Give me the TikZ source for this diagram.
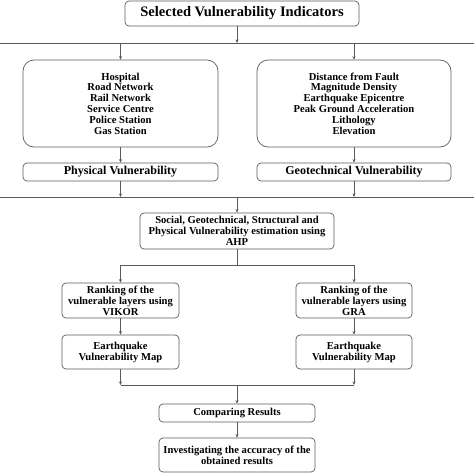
\documentclass[tikz,border=0pt]{standalone}
\usepackage{fontspec}
\setmainfont{Liberation Serif}
\usetikzlibrary{arrows.meta}
\definecolor{edge}{HTML}{5A5A5A}
\tikzset{
  box/.style={draw=edge, line width=0.7pt, rounded corners=4pt, align=center, inner sep=0pt,
    font=\bfseries\fontsize{10.6}{11}\selectfont},
  bigbox/.style={box, rounded corners=11pt, font=\bfseries\fontsize{10.6}{10.8}\selectfont},
  conn/.style={draw=edge, line width=0.6pt},
  arr/.style={conn, -{Stealth[length=3.5pt,width=3pt]}},
}
\begin{document}
\begin{tikzpicture}[x=1pt,y=-1pt]
\useasboundingbox (0,0) rectangle (474,474);
% nodes
\node[box, minimum width=234pt, minimum height=25pt, font=\bfseries\fontsize{14.5}{16}\selectfont] (top) at (242,13.5) {Selected Vulnerability Indicators};
\node[bigbox, minimum width=195pt, minimum height=87pt] (L1) at (120.5,103.5) {Hospital\\Road Network\\Rail Network\\Service Centre\\Police Station\\Gas Station};
\node[bigbox, minimum width=194pt, minimum height=87pt] (R1) at (354,103.5) {Distance from Fault\\Magnitude Density\\Earthquake Epicentre\\Peak Ground Acceleration\\Lithology\\Elevation};
\node[box, minimum width=195pt, minimum height=18pt, font=\bfseries\fontsize{12}{13}\selectfont] (phys) at (120.5,172) {Physical Vulnerability};
\node[box, minimum width=194pt, minimum height=18pt, font=\bfseries\fontsize{12}{13}\selectfont] (geo) at (354,172) {Geotechnical Vulnerability};
\node[box, minimum width=194pt, minimum height=36pt] (ahp) at (237,231) {Social, Geotechnical, Structural and\\Physical Vulnerability estimation using\\AHP};
\node[box, minimum width=117pt, minimum height=35pt] (vikor) at (120.5,300.5) {Ranking of the\\vulnerable layers using\\VIKOR};
\node[box, minimum width=116pt, minimum height=35pt] (gra) at (354,300.5) {Ranking of the\\vulnerable layers using\\GRA};
\node[box, minimum width=117pt, minimum height=34pt] (evmL) at (120.5,352) {Earthquake\\Vulnerability Map};
\node[box, minimum width=116pt, minimum height=34pt] (evmR) at (354,352) {Earthquake\\Vulnerability Map};
\node[box, minimum width=156pt, minimum height=18pt] (comp) at (237,413) {Comparing Results};
\node[box, minimum width=156pt, minimum height=34pt] (inv) at (237,455) {Investigating the accuracy of the\\obtained results};
% bus coordinates
\coordinate (b1w) at (0,43); \coordinate (b1e) at (474,43);
\coordinate (b1c) at (237,43); \coordinate (b1l) at (120.5,43); \coordinate (b1r) at (354,43);
\coordinate (t1) at (237,26);
\coordinate (b2w) at (0,197); \coordinate (b2e) at (474,197);
\coordinate (b2c) at (237,197); \coordinate (b2l) at (120.5,197); \coordinate (b2r) at (354,197);
\coordinate (b3c) at (237,265); \coordinate (b3l) at (120.5,265); \coordinate (b3r) at (354,265);
\coordinate (b4c) at (237,385); \coordinate (b4l) at (120.5,385); \coordinate (b4r) at (354,385);
% connectors
\draw[conn] (b1w) -- (b1e);
\draw[arr] (t1) -- (b1c);
\draw[arr] (b1l) -- (L1.north);
\draw[arr] (b1r) -- (R1.north);
\draw[arr] (L1) -- (phys);
\draw[arr] (R1) -- (geo);
\draw[conn] (b2w) -- (b2e);
\draw[arr] (phys) -- (b2l);
\draw[arr] (geo) -- (b2r);
\draw[arr] (b2c) -- (ahp.north);
\draw[conn] (ahp) -- (b3c);
\draw[conn] (b3l) -- (b3r);
\draw[arr] (b3l) -- (vikor.north);
\draw[arr] (b3r) -- (gra.north);
\draw[arr] (vikor) -- (evmL);
\draw[arr] (gra) -- (evmR);
\draw[arr] (evmL) -- (b4l);
\draw[arr] (evmR) -- (b4r);
\draw[conn] (b4l) -- (b4r);
\draw[arr] (b4c) -- (comp.north);
\draw[arr] (comp) -- (inv);
\end{tikzpicture}
\end{document}
